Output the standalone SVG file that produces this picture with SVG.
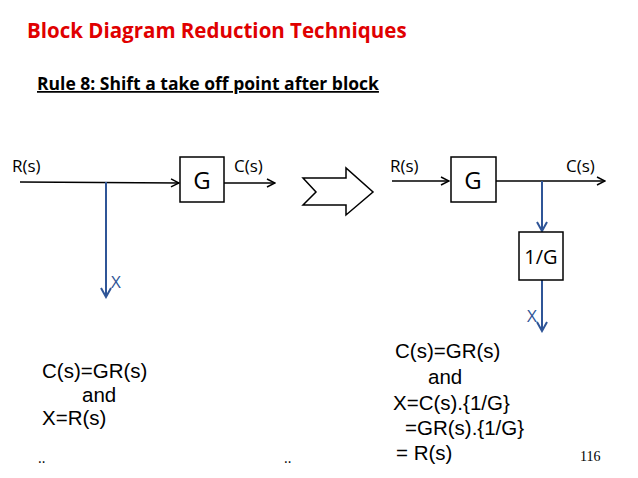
<svg xmlns="http://www.w3.org/2000/svg" width="638" height="478" viewBox="0 0 638 478">
<style>
text{font-family:"Open Sans","Liberation Sans",sans-serif;fill:#000}
.t{font-size:17px}
.e{font-size:20.5px;font-family:"Liberation Sans",sans-serif}
.blk{fill:#fff;stroke:#000;stroke-width:1.5}
.k{stroke:#000;stroke-width:1.5;fill:none}
.b{stroke:#2f5597;stroke-width:2;fill:none}
</style>
<defs>
<marker id="ak" markerWidth="10" markerHeight="10" refX="9" refY="5" orient="auto" markerUnits="userSpaceOnUse"><path d="M1,1 L9,5 L1,9" fill="none" stroke="#000" stroke-width="1.5"/></marker>
<marker id="ab" markerWidth="12" markerHeight="12" refX="10" refY="6" orient="auto" markerUnits="userSpaceOnUse"><path d="M1,1 L10,6 L1,11" fill="none" stroke="#2f5597" stroke-width="2"/></marker>
</defs>
<rect width="638" height="478" fill="#fff"/>
<text x="27" y="38" style="font-size:20.5px;font-weight:bold;fill:#e00000">Block Diagram Reduction Techniques</text>
<text x="37" y="90" style="font-size:17.5px;font-weight:bold;text-decoration:underline">Rule 8: Shift a take off point after block</text>
<g id="connectors">
<line class="k" x1="20" y1="182" x2="179" y2="183" marker-end="url(#ak)"/>
<line class="k" x1="224" y1="183" x2="275" y2="183" marker-end="url(#ak)"/>
<line class="b" x1="106" y1="182" x2="106" y2="297" marker-end="url(#ab)"/>
<line class="k" x1="392" y1="181" x2="449" y2="181" marker-end="url(#ak)"/>
<line class="k" x1="496" y1="181" x2="605" y2="181" marker-end="url(#ak)"/>
<line class="b" x1="542" y1="181" x2="542" y2="231" marker-end="url(#ab)"/>
<line class="b" x1="542" y1="280" x2="542" y2="331" marker-end="url(#ab)"/>
</g>
<g id="nodeG1"><rect class="blk" x="180" y="157" width="44" height="45"/><text x="202" y="189" text-anchor="middle" style="font-size:24px">G</text></g>
<g id="nodeG2"><rect class="blk" x="451" y="157" width="45" height="45"/><text x="473" y="189" text-anchor="middle" style="font-size:24px">G</text></g>
<g id="nodeInv"><rect class="blk" x="519" y="232" width="44" height="48"/><text x="541" y="264" text-anchor="middle" style="font-size:20px">1/G</text></g>
<g id="bigArrow"><polygon points="303,178 346,178 346,168 373,192 346,215 346,205 303,205 316,192" fill="#fff" stroke="#000" stroke-width="1.5"/></g>
<text x="12" y="172" class="t">R(s)</text>
<text x="234" y="172" class="t">C(s)</text>
<text x="111" y="288" class="t" style="fill:#2f5597">X</text>
<text x="390" y="172" class="t">R(s)</text>
<text x="566" y="172" class="t">C(s)</text>
<text x="527" y="322" class="t" style="fill:#2f5597">X</text>
<text x="42" y="378" class="e">C(s)=GR(s)</text>
<text x="82" y="402" class="e">and</text>
<text x="42" y="425" class="e">X=R(s)</text>
<text x="395" y="358" class="e">C(s)=GR(s)</text>
<text x="428" y="384" class="e">and</text>
<text x="393" y="410" class="e">X=C(s).{1/G}</text>
<text x="405" y="435" class="e">=GR(s).{1/G}</text>
<text x="396" y="460" class="e">= R(s)</text>
<text x="38" y="463" style="font-size:14px">..</text>
<text x="284" y="463" style="font-size:14px">..</text>
<text x="580" y="461" style="font-size:14px;font-family:'Liberation Serif',serif">116</text>
</svg>
